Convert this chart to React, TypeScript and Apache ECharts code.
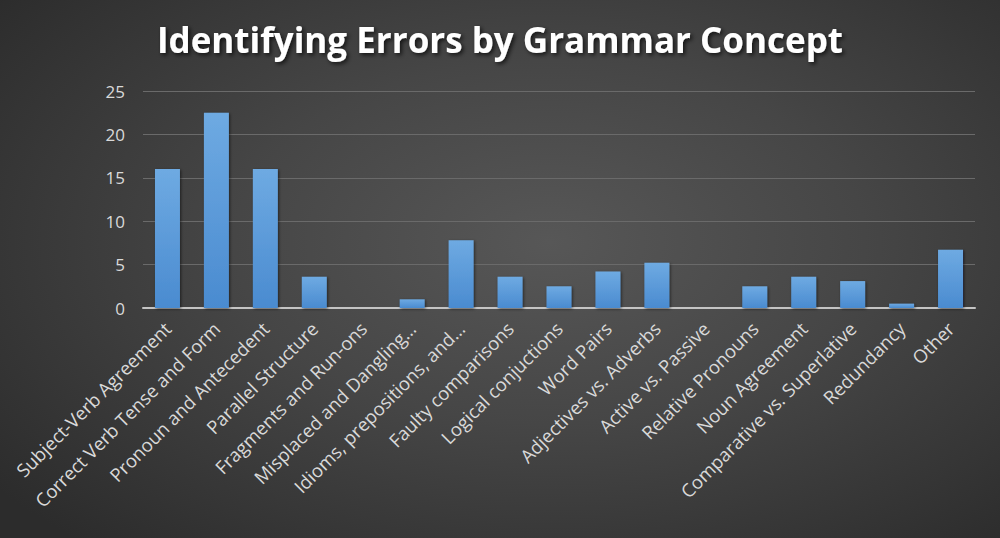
import React, { useEffect, useRef } from "react";
import * as echarts from "echarts";

const titleText = "Identifying Errors by Grammar Concept";
const categories = [
  "Subject-Verb Agreement",
  "Correct Verb Tense and Form",
  "Pronoun and Antecedent",
  "Parallel Structure",
  "Fragments and Run-ons",
  "Misplaced and Dangling…",
  "Idioms, prepositions, and…",
  "Faulty comparisons",
  "Logical conjuctions",
  "Word Pairs",
  "Adjectives vs. Adverbs",
  "Active vs. Passive",
  "Relative Pronouns",
  "Noun Agreement",
  "Comparative vs. Superlative",
  "Redundancy",
  "Other",
];
const values = [16, 22.5, 16, 3.6, 0, 1, 7.8, 3.6, 2.5, 4.2, 5.2, 0, 2.5, 3.6, 3.1, 0.5, 6.7];
const yMin = 0;
const yMax = 25;
const yInterval = 5;

export default function App() {
  const ref = useRef<HTMLDivElement>(null);
  useEffect(() => {
    document.body.style.margin = "0";
    const chart = echarts.init(ref.current!, undefined, { renderer: "svg" });
    chart.setOption({
      animation: false,
      title: {
        text: titleText,
        left: "center",
        top: 17,
        textStyle: {
          color: "#ffffff",
          fontFamily: "Open Sans",
          fontWeight: "bold",
          fontSize: 35,
          textShadowColor: "rgba(0,0,0,0.7)",
          textShadowBlur: 4,
          textShadowOffsetX: 2,
          textShadowOffsetY: 2,
        },
      },
      grid: { left: 143, right: 25, top: 91, bottom: 230 },
      xAxis: {
        type: "category",
        data: categories,
        axisLine: { lineStyle: { color: "#c4c4c4", width: 2 } },
        axisTick: { show: false },
        axisLabel: {
          interval: 0,
          rotate: 45,
          color: "#d9d9d9",
          fontFamily: "Open Sans",
          fontSize: 18.5,
          margin: 17,
        },
      },
      yAxis: {
        type: "value",
        min: yMin,
        max: yMax,
        interval: yInterval,
        axisLine: { show: false },
        axisTick: { show: false },
        axisLabel: {
          color: "#d9d9d9",
          fontFamily: "Open Sans",
          fontSize: 17,
          margin: 18,
        },
        splitLine: { lineStyle: { color: "#6a6a6a", width: 1 } },
      },
      series: [
        {
          type: "bar",
          data: values,
          barWidth: "51%",
          itemStyle: {
            color: new echarts.graphic.LinearGradient(0, 0, 0, 1, [
              { offset: 0, color: "#6eaae2" },
              { offset: 1, color: "#4a8bd0" },
            ]),
            shadowColor: "rgba(0,0,0,0.55)",
            shadowBlur: 3,
            shadowOffsetX: 1,
            shadowOffsetY: 1,
          },
        },
      ],
    });
    return () => chart.dispose();
  }, []);
  return (
    <div
      ref={ref}
      style={{
        position: "absolute",
        left: 0,
        top: 0,
        width: 1000,
        height: 538,
        background:
          "radial-gradient(ellipse 70% 75% at 55% 45%, #575757 0%, #464646 45%, #2c2c2c 100%)",
      }}
    />
  );
}
